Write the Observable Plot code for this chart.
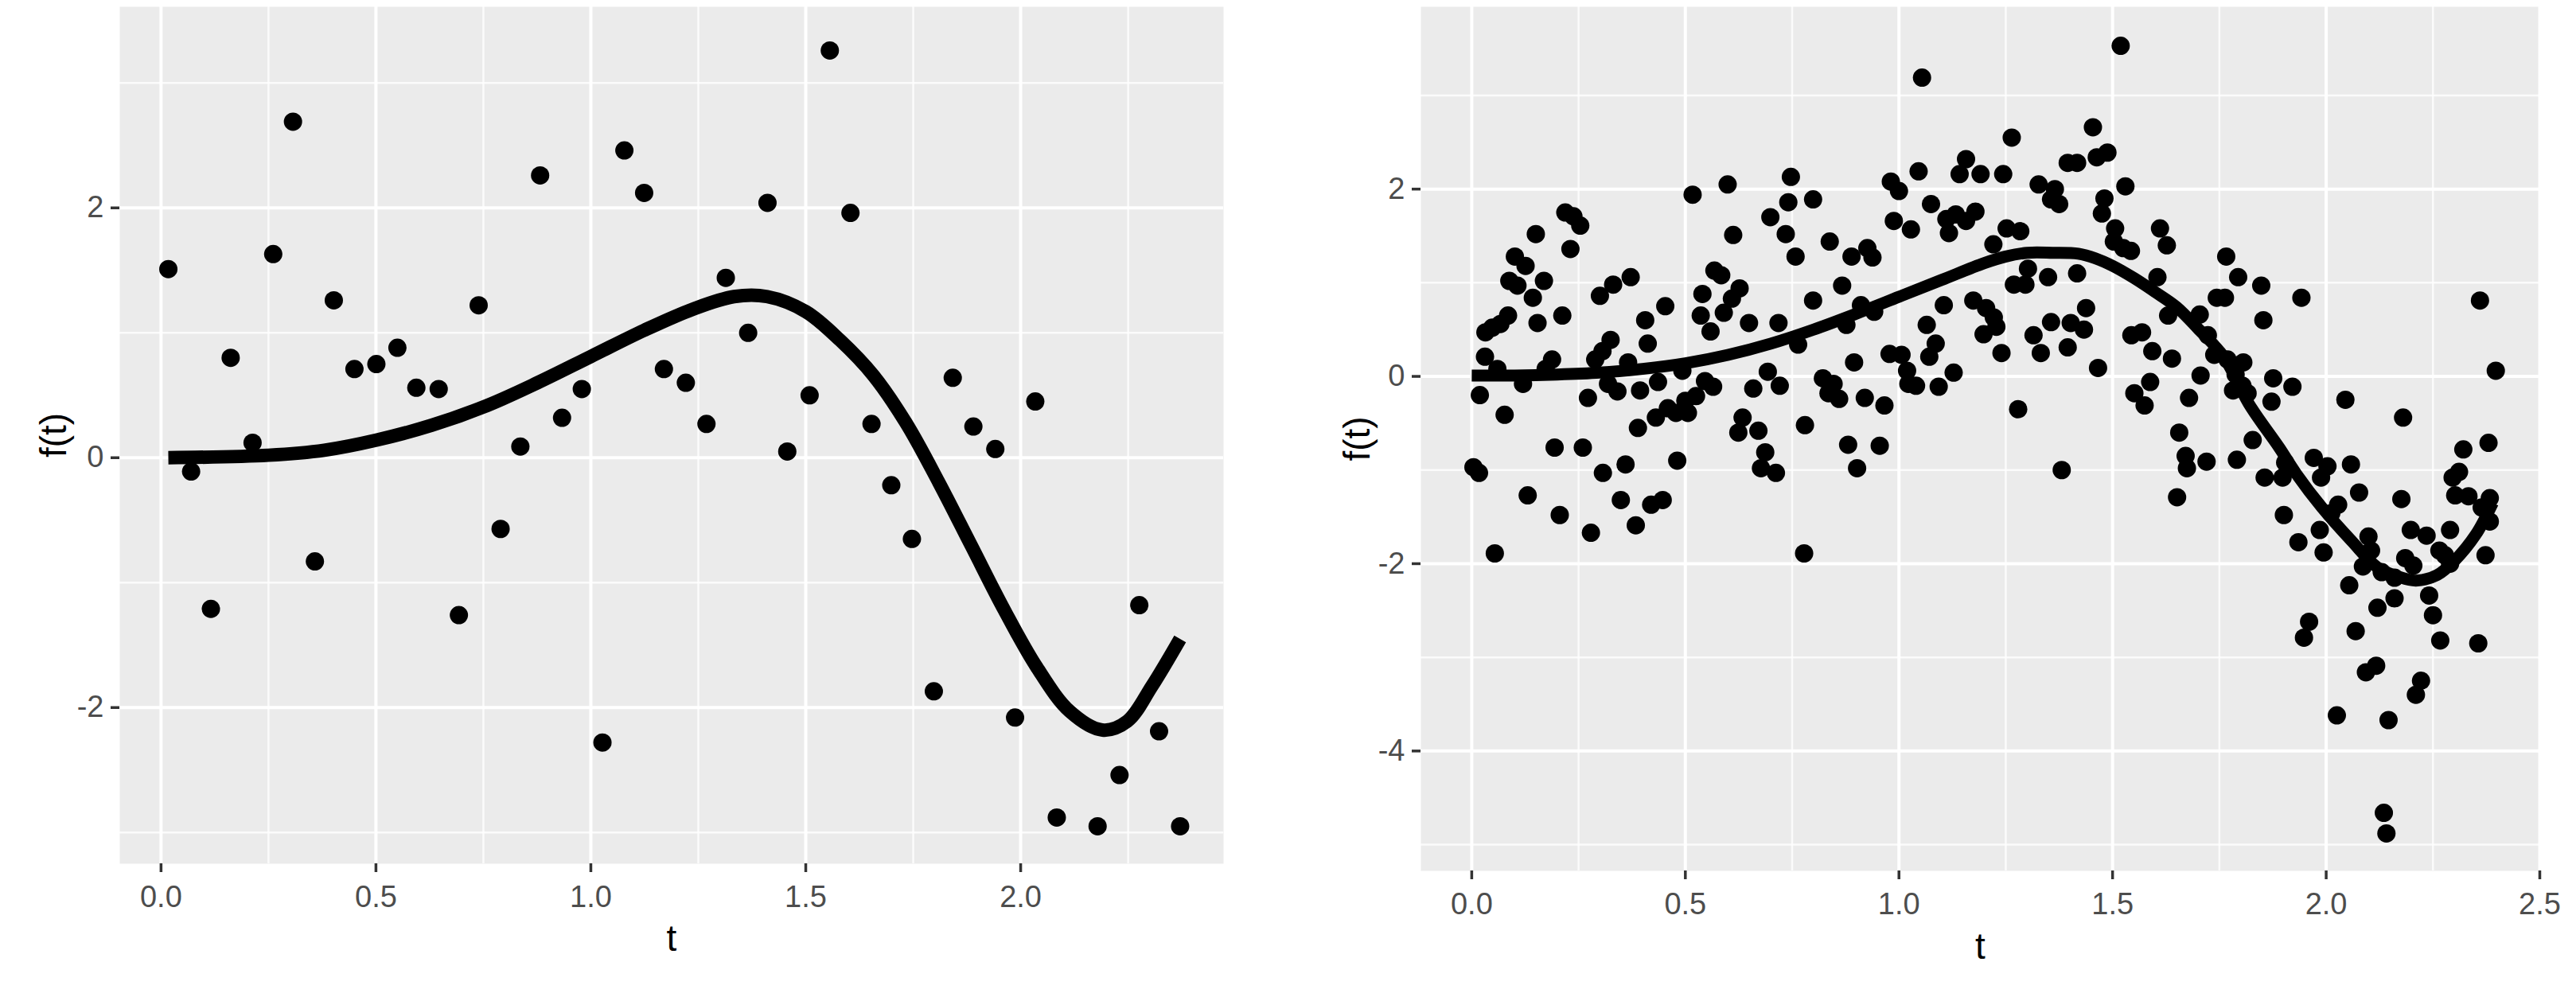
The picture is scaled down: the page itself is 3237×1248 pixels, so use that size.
<!DOCTYPE html>
<html>
<head>
<meta charset="utf-8">
<script src="https://cdn.jsdelivr.net/npm/d3@7"></script>
<script src="https://cdn.jsdelivr.net/npm/@observablehq/plot@0.6"></script>
<style>
  html, body { margin: 0; padding: 0; background: #ffffff; }
  #wrap { position: relative; width: 3237px; height: 1248px; overflow: hidden; background: #ffffff; }
  #left { position: absolute; left: 0; top: 0; }
  #right { position: absolute; left: 1600px; top: 0; }
</style>
</head>
<body>
<div id="wrap"><div id="left"></div><div id="right"></div></div>
<script>
// ---------- Left panel data ----------
const leftT = [0.017,0.070,0.116,0.162,0.213,0.261,0.307,0.358,0.402,0.450,0.501,0.550,0.594,0.646,0.693,0.739,0.790,0.836,0.882,0.933,0.979,1.027,1.078,1.124,1.170,1.221,1.269,1.314,1.366,1.411,1.457,1.509,1.556,1.604,1.653,1.699,1.747,1.798,1.842,1.890,1.941,1.987,2.034,2.084,2.179,2.230,2.276,2.322,2.371];
const leftF = [1.51,-0.11,-1.21,0.80,0.12,1.63,2.69,-0.83,1.26,0.71,0.75,0.88,0.56,0.55,-1.26,1.22,-0.57,0.09,2.26,0.32,0.55,-2.28,2.46,2.12,0.71,0.60,0.27,1.44,1.00,2.04,0.05,0.50,3.26,1.96,0.27,-0.22,-0.65,-1.87,0.64,0.25,0.07,-2.08,0.45,-2.88,-2.95,-2.54,-1.18,-2.19,-2.95];
const leftCurveT = [0.017,0.25,0.38,0.50,0.63,0.76,0.876,1.00,1.124,1.238,1.333,1.41,1.50,1.58,1.657,1.733,1.81,1.886,1.962,2.038,2.114,2.19,2.248,2.305,2.371];
const leftCurveF = [0.00,0.02,0.06,0.14,0.26,0.42,0.60,0.81,1.02,1.19,1.29,1.29,1.17,0.94,0.66,0.28,-0.20,-0.71,-1.22,-1.68,-2.03,-2.18,-2.11,-1.83,-1.45];
const leftXMajor = [0, 0.5, 1, 1.5, 2];
const leftXMinor = [0.25, 0.75, 1.25, 1.75, 2.25];
const leftYMajor = [-2, 0, 2];
const leftYMinor = [-3, -1, 1, 3];

// ---------- Right panel data ----------
const rightT = [
0.517,0.599,0.747,0.741,0.699,0.799,0.612,0.735,0.758,0.219,0.238,0.254,0.150,0.231,0.101,0.126,0.088,0.107,0.169,0.143,
0.372,0.331,0.300,0.568,0.584,0.540,0.627,0.609,0.590,0.536,0.559,0.649,0.718,0.453,0.406,0.412,0.212,0.154,0.032,0.048,
0.067,0.085,0.031,0.060,0.120,0.188,0.173,0.019,0.077,0.272,0.289,0.306,0.325,0.366,0.319,0.341,0.394,0.436,0.493,0.546,
0.565,0.389,0.431,0.459,0.478,0.506,0.500,0.525,0.659,0.693,0.721,0.634,0.624,0.671,0.687,0.677,0.712,0.764,0.780,0.799,
0.194,0.260,0.360,0.481,0.307,0.004,0.017,
1.054,1.519,1.454,1.264,1.395,1.417,1.463,1.488,1.530,1.157,1.142,1.191,1.244,1.046,0.981,1.000,1.327,1.365,1.356,1.375,
1.481,1.475,1.075,1.111,1.133,1.157,1.179,1.117,0.988,1.028,0.838,0.889,0.926,0.938,1.252,1.284,1.221,1.506,1.503,1.525,
1.543,1.611,1.627,1.605,0.867,0.911,0.942,0.877,1.302,1.349,1.417,1.269,1.296,1.105,1.174,1.204,1.222,1.228,1.198,1.065,
1.086,1.071,0.978,1.006,1.019,1.022,1.040,1.093,1.128,0.895,0.822,0.847,0.835,0.860,0.920,0.966,1.240,1.315,1.332,1.356,
1.402,1.433,1.438,1.395,1.466,1.544,1.569,1.593,1.639,1.630,1.588,1.551,1.575,1.679,1.279,0.881,0.955,0.902,1.381,1.656,
1.671,1.674,
1.766,1.794,1.848,1.744,1.763,1.942,1.853,2.360,2.397,1.704,1.723,1.706,1.738,1.769,1.806,1.788,1.804,1.782,1.816,1.876,
1.921,1.872,2.045,2.180,1.828,1.720,1.791,1.971,2.058,2.380,2.321,2.311,
0.131,0.054,0.206,0.279,0.349,0.420,0.447,0.384,0.778,
1.651,1.856,
2.296,2.003,1.988,1.898,1.904,2.077,2.176,1.901,2.028,2.012,1.985,1.935,1.994,2.099,2.105,2.086,2.198,2.235,2.290,2.302,
2.333,2.383,2.364,2.383,2.373,2.265,2.278,2.290,2.185,2.204,2.130,2.160,2.054,2.160,2.120,2.241,2.250,1.960,1.948,2.069,
2.267,2.356,2.117,2.093,2.222,2.210,2.025,2.146,2.135,2.141
];
const rightF = [
1.94,2.05,2.13,1.86,1.70,1.89,1.51,1.52,1.28,1.75,1.71,1.61,1.52,1.36,1.28,1.18,1.02,0.97,1.02,0.84,
1.06,0.98,0.86,1.13,1.08,0.88,0.94,0.83,0.68,0.65,0.48,0.57,0.57,0.75,0.60,0.35,0.65,0.57,0.47,0.52,
0.56,0.65,0.21,0.08,-0.08,0.18,0.08,-0.20,-0.41,-0.23,0.18,0.27,0.39,0.15,-0.08,-0.16,-0.15,-0.06,0.06,-0.05,
-0.11,-0.55,-0.44,-0.34,-0.39,-0.39,-0.26,-0.21,-0.13,0.05,-0.10,-0.44,-0.60,-0.58,-0.81,-0.98,-1.03,0.34,-0.52,0.81,
-0.76,-0.76,-0.94,-0.90,-1.03,-0.97,-1.03,
3.19,3.53,2.66,2.55,2.28,2.28,2.34,2.39,2.03,2.32,2.16,2.16,2.16,2.19,2.08,1.98,2.05,2.00,1.89,1.84,
1.90,1.74,1.84,1.68,1.73,1.66,1.76,1.53,1.66,1.57,1.44,1.28,1.37,1.27,1.58,1.55,1.41,1.58,1.44,1.37,
1.34,1.58,1.40,1.06,0.97,0.76,0.69,0.55,1.15,1.06,1.10,0.98,0.98,0.76,0.81,0.73,0.63,0.53,0.45,0.55,
0.35,0.21,0.24,0.23,0.06,-0.08,-0.10,-0.11,0.04,0.15,-0.02,-0.08,-0.18,-0.24,-0.23,-0.31,0.25,0.44,0.25,0.58,
0.57,0.50,0.73,0.31,0.09,0.44,0.47,0.27,0.19,0.65,-0.06,-0.18,-0.31,-0.23,-0.35,-0.73,-0.74,-0.98,-1.00,-0.60,
-0.85,-0.98,
1.28,1.06,0.97,0.84,0.84,0.84,0.60,0.81,0.06,0.66,0.44,0.01,0.23,0.18,0.15,0.02,-0.10,-0.15,-0.18,-0.02,
-0.11,-0.27,-0.25,-0.44,-0.68,-0.91,-0.89,-0.87,-0.94,-0.71,-0.78,-1.02,
-1.27,-1.89,-1.48,-1.67,-1.32,-1.37,-1.32,-1.59,-1.89,
-1.29,-1.08,
-1.08,-0.96,-1.08,-1.08,-0.92,-1.24,-1.31,-1.48,-1.37,-1.46,-1.64,-1.77,-1.88,-1.71,-1.86,-2.03,-1.64,-1.70,-1.64,-1.27,
-1.28,-1.30,-1.40,-1.55,-1.91,-1.86,-1.91,-2.00,-1.94,-2.02,-2.09,-2.15,-2.23,-2.37,-2.47,-2.34,-2.55,-2.62,-2.79,-2.72,
-2.82,-2.85,-3.09,-3.16,-3.25,-3.40,-3.62,-3.67,-4.66,-4.88
];
const rightCurveT = [0.00,0.10,0.20,0.30,0.40,0.50,0.60,0.70,0.80,0.90,1.00,1.10,1.20,1.25,1.30,1.36,1.42,1.46,1.50,1.55,1.60,1.65,1.70,1.76,1.82,1.89,1.93,1.99,2.06,2.12,2.17,2.21,2.26,2.30,2.35,2.39];
const rightCurveF = [0.01,0.01,0.02,0.04,0.08,0.14,0.23,0.35,0.50,0.67,0.85,1.03,1.21,1.28,1.32,1.32,1.31,1.26,1.18,1.05,0.90,0.74,0.51,0.21,-0.30,-0.76,-1.04,-1.40,-1.76,-2.04,-2.14,-2.18,-2.12,-1.97,-1.69,-1.35];
const rightXMajor = [0, 0.5, 1, 1.5, 2, 2.5];
const rightXMinor = [0.25, 0.75, 1.25, 1.75, 2.25];
const rightYMajor = [-4, -2, 0, 2];
const rightYMinor = [-5, -3, -1, 1, 3];

const xLabel = "t";
const yLabel = "f(t)";

function panel(cfg) {
  const n = cfg.t.length;
  return Plot.plot({
    width: cfg.width,
    height: 1248,
    marginLeft: cfg.ml,
    marginRight: cfg.mr,
    marginTop: cfg.mt,
    marginBottom: cfg.mb,
    style: { fontFamily: "'Liberation Sans', Arial, sans-serif", background: "#ffffff", overflow: "visible" },
    x: { domain: cfg.xDomain, inset: 0 },
    y: { domain: cfg.yDomain, inset: 0 },
    marks: [
      Plot.frame({ fill: "#EBEBEB", stroke: "none" }),
      Plot.ruleX(cfg.xMinor, { stroke: "#ffffff", strokeWidth: 2.5, strokeOpacity: 0.8 }),
      Plot.ruleY(cfg.yMinor, { stroke: "#ffffff", strokeWidth: 2.5, strokeOpacity: 0.8 }),
      Plot.ruleX(cfg.xMajor, { stroke: "#ffffff", strokeWidth: 4 }),
      Plot.ruleY(cfg.yMajor, { stroke: "#ffffff", strokeWidth: 4 }),
      Plot.axisX({ ticks: cfg.xMajor.filter(v => v >= cfg.xDomain[0] && v <= cfg.xDomain[1]), tickSize: 11, tickPadding: 17,
        tickFormat: d3.format(".1f"), fontSize: 38, fill: "#4D4D4D", stroke: "#333333", strokeWidth: 3.5, label: null }),
      Plot.axisY({ ticks: cfg.yMajor, tickSize: 11, tickPadding: 9,
        tickFormat: d => String(d), fontSize: 38, fill: "#4D4D4D", stroke: "#333333", strokeWidth: 3.5, label: null }),
      Plot.dot({ length: n }, { x: cfg.t, y: cfg.f, r: 11.5, fill: "#000000", stroke: "none" }),
      Plot.line({ length: cfg.ct.length }, { x: cfg.ct, y: cfg.cf, stroke: "#000000", strokeWidth: cfg.lw,
        curve: "catmull-rom", strokeLinecap: "butt", strokeLinejoin: "round" }),
      Plot.text([xLabel], { text: d => d, frameAnchor: "bottom", dy: cfg.xTitleDy, lineAnchor: "middle",
        fontSize: 46, fill: "#000000" }),
      Plot.text([yLabel], { text: d => d, frameAnchor: "left", dx: -cfg.yTitleDx, rotate: -90, lineAnchor: "middle",
        textAnchor: "middle", fontSize: 46, fill: "#000000" })
    ]
  });
}

document.getElementById("left").appendChild(panel({
  width: 1560, ml: 150, mr: 23, mt: 8, mb: 163,
  xDomain: [-0.096, 2.472], yDomain: [-3.25, 3.61],
  t: leftT, f: leftF, ct: leftCurveT, cf: leftCurveF, lw: 17,
  xMajor: leftXMajor, xMinor: leftXMinor, yMajor: leftYMajor, yMinor: leftYMinor,
  xTitleDy: 95, yTitleDx: 82
}));

document.getElementById("right").appendChild(panel({
  width: 1637, ml: 185, mr: 46, mt: 8, mb: 154,
  xDomain: [-0.119, 2.5], yDomain: [-5.28, 3.947],
  t: rightT, f: rightF, ct: rightCurveT, cf: rightCurveF, lw: 15,
  xMajor: rightXMajor, xMinor: rightXMinor, yMajor: rightYMajor, yMinor: rightYMinor,
  xTitleDy: 96, yTitleDx: 79
}));
</script>
</body>
</html>
